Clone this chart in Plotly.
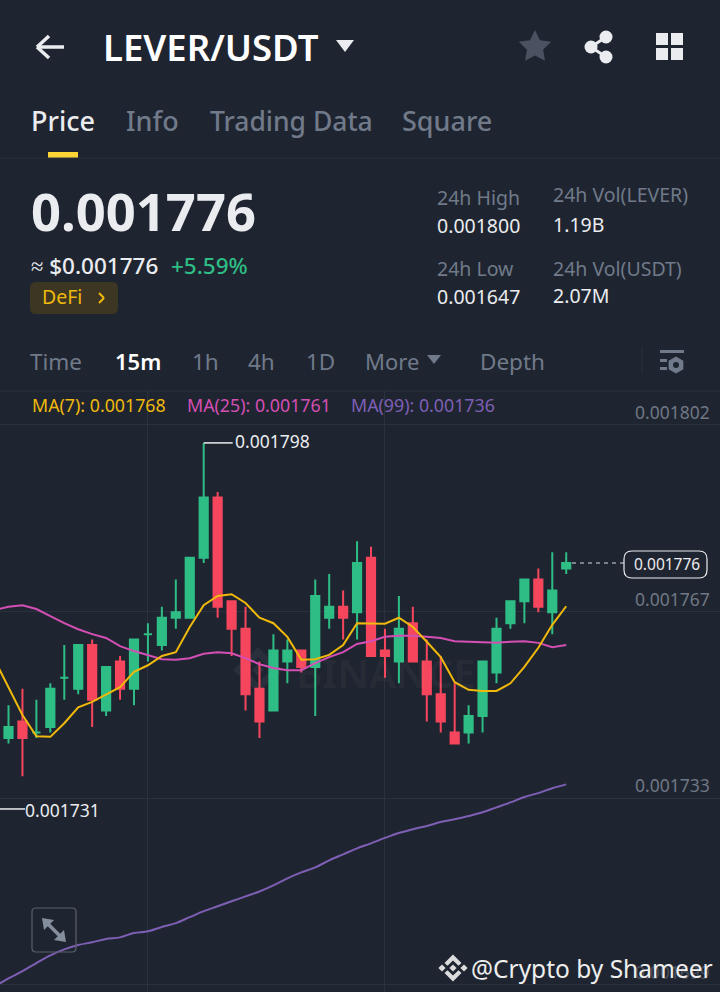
# -*- coding: utf-8 -*-
"""LEVER/USDT mobile kline screen"""

import math

import numpy as np
import plotly.graph_objects as go

W, H = 720, 992
BG = '#1f2530'
WHITE = '#eaecef'
GRAY = '#707a8a'
LINE = '#2c323d'
GREEN = '#2ebd85'
RED = '#f6465d'
YELLOW = '#f0b90b'
PINK = '#d44fb4'
PURPLE = '#7e5fb5'
FONT = 'Noto Sans'

# prices in millionths (0.001776 -> 1776)
opens = [1737, 1744, 1747, 1745, 1746, 1755, 1753, 1761, 1749, 1758, 1753, 1763, 1761, 1766,
         1766, 1777, 1788, 1769, 1764, 1753, 1749, 1758, 1760, 1757, 1766, 1768, 1767, 1777,
         1760, 1758, 1765, 1758, 1752, 1745, 1745, 1748, 1756, 1765, 1769, 1773, 1767, 1775]
highs = [1744, 1750, 1753, 1751, 1754, 1761, 1761, 1762, 1757, 1759, 1762, 1765, 1768, 1773,
         1777, 1798, 1789, 1769, 1768, 1758, 1763, 1762, 1760, 1773, 1774, 1771, 1780, 1779,
         1764, 1770, 1768, 1762, 1759, 1754, 1750, 1758, 1766, 1769, 1773, 1775, 1778, 1778]
lows = [1736, 1743, 1737, 1744, 1745, 1751, 1752, 1746, 1748, 1751, 1750, 1758, 1760, 1764,
        1766, 1776, 1766, 1759, 1749, 1744, 1749, 1754, 1756, 1748, 1764, 1762, 1762, 1759,
        1755, 1754, 1758, 1747, 1745, 1743, 1743, 1745, 1754, 1764, 1765, 1767, 1763, 1774]
closes = [1743, 1746, 1744, 1745, 1753, 1755, 1761, 1751, 1757, 1753, 1762, 1763, 1766, 1767,
          1777, 1788, 1768, 1764, 1752, 1747, 1760, 1760, 1757, 1770, 1768, 1766, 1776, 1759,
          1759, 1764, 1758, 1752, 1747, 1743, 1748, 1758, 1764, 1769, 1773, 1768, 1771, 1776]

ma7 = [1758.3, 1753.3, 1748.2, 1744.3, 1744.2, 1746.7, 1749.6, 1750.6, 1752.0, 1753.3, 1756.1,
       1757.3, 1759.0, 1759.7, 1764.3, 1768.3, 1770.0, 1770.3, 1768.7, 1766.0, 1765.0, 1762.5,
       1758.3, 1758.4, 1759.2, 1761.0, 1765.0, 1765.0, 1764.9, 1766.0, 1764.3, 1761.6, 1758.8,
       1754.2, 1752.8, 1752.6, 1752.6, 1754.0, 1757.0, 1760.5, 1764.7, 1768.1]
ma25 = [1767.4, 1768.0, 1768.3, 1767.6, 1766.3, 1765.0, 1763.9, 1763.0, 1762.3, 1760.8, 1759.9,
        1759.2, 1758.4, 1758.3, 1758.6, 1759.4, 1759.7, 1759.5, 1758.6, 1757.5, 1756.8, 1756.4,
        1756.4, 1757.7, 1758.8, 1759.7, 1761.2, 1761.7, 1762.5, 1762.7, 1762.7, 1762.5, 1762.3,
        1761.7, 1761.6, 1761.4, 1761.4, 1761.6, 1761.7, 1761.4, 1760.6, 1761.0]
ma99 = [1698.5, 1700.0, 1701.3, 1702.8, 1704.2, 1705.3, 1706.1, 1706.6, 1707.2, 1707.5, 1708.3,
        1708.6, 1709.4, 1710.1, 1711.2, 1712.3, 1713.2, 1714.1, 1715.0, 1715.9, 1717.0, 1718.3,
        1719.4, 1720.3, 1721.6, 1722.7, 1723.8, 1724.7, 1725.7, 1726.6, 1727.3, 1727.9, 1728.6,
        1729.1, 1729.7, 1730.4, 1731.3, 1732.2, 1733.2, 1733.9, 1734.8, 1735.5]

grid_prices = [1801.3, 1767.2, 1733.0, 1698.9]
grid_labels = ['0.001802', '0.001767', '0.001733', '0.001699']
grid_candles = [11, 28]
low_price = 1731
last_price = 1776

candles = list(range(len(opens)))


def scaled(values):
    return (np.array(values, dtype=float) / 1e6).tolist()


def px(x):
    return x / W


def py(y):
    return 1 - y / H


annotations = []
shapes = []


def label(text, x, y, size, color=WHITE, anchor='left', weight=400, font=FONT):
    annotations.append(dict(
        text=text, x=px(x), y=py(y), xref='paper', yref='paper', showarrow=False,
        xanchor=anchor, yanchor='middle', borderpad=0, borderwidth=0,
        font=dict(family=font, size=size, color=color, weight=weight)
    ))


def path_of(points):
    return 'M ' + ' L '.join(f'{px(x):.5f},{py(y):.5f}' for x, y in points) + ' Z'


def polygon(points, color, layer='above'):
    shapes.append(dict(type='path', path=path_of(points), xref='paper', yref='paper',
                       fillcolor=color, line=dict(width=0), layer=layer))


def segment(x0, y0, x1, y1, color, width=1, dash='solid'):
    shapes.append(dict(type='line', xref='paper', yref='paper', x0=px(x0), y0=py(y0),
                       x1=px(x1), y1=py(y1), line=dict(color=color, width=width, dash=dash)))


def block(x0, y0, x1, y1, color):
    shapes.append(dict(type='rect', xref='paper', yref='paper', x0=px(x0), y0=py(y0),
                       x1=px(x1), y1=py(y1), fillcolor=color, line=dict(width=0)))


def dot(x, y, r, color):
    shapes.append(dict(type='circle', xref='paper', yref='paper', x0=px(x - r), y0=py(y - r),
                       x1=px(x + r), y1=py(y + r), fillcolor=color, line=dict(width=0)))


def rounded(x0, y0, x1, y1, r, fill, border=None, width=0):
    p = (f'M {px(x0 + r):.5f},{py(y0):.5f} L {px(x1 - r):.5f},{py(y0):.5f} '
         f'Q {px(x1):.5f},{py(y0):.5f} {px(x1):.5f},{py(y0 + r):.5f} '
         f'L {px(x1):.5f},{py(y1 - r):.5f} Q {px(x1):.5f},{py(y1):.5f} {px(x1 - r):.5f},{py(y1):.5f} '
         f'L {px(x0 + r):.5f},{py(y1):.5f} Q {px(x0):.5f},{py(y1):.5f} {px(x0):.5f},{py(y1 - r):.5f} '
         f'L {px(x0):.5f},{py(y0 + r):.5f} Q {px(x0):.5f},{py(y0):.5f} {px(x0 + r):.5f},{py(y0):.5f} Z')
    shapes.append(dict(type='path', path=p, xref='paper', yref='paper', fillcolor=fill,
                       line=dict(color=border or fill, width=width)))


def binance_logo(cx, cy, k, color, layer='above'):
    for dx in (-11 * k, 0, 11 * k):
        d = 3.6 * k
        polygon([(cx + dx, cy - d), (cx + dx + d, cy), (cx + dx, cy + d), (cx + dx - d, cy)], color, layer)
    for s in (-1, 1):
        pts = [(0, 13.5), (8.5, 5), (5.5, 2.2), (0, 7.5), (-5.5, 2.2), (-8.5, 5)]
        polygon([(cx + a * k, cy + s * b * k) for a, b in pts], color, layer)


# ==================== page header ====================
segment(37, 47, 64, 47, WHITE, 3.5)
segment(49, 36, 37, 47, WHITE, 3.5)
segment(37, 47, 49, 58, WHITE, 3.5)
label('LEVER/USDT', 103, 47, 36.5, '#ffffff', weight=600)
polygon([(336, 40), (354, 40), (345, 52)], WHITE)

star = [(535 + (17 if i % 2 == 0 else 8.5) * math.sin(i * math.pi / 5),
         47 - (17 if i % 2 == 0 else 8.5) * math.cos(i * math.pi / 5)) for i in range(10)]
polygon(star, '#4a5160')
segment(606, 37, 591, 47, WHITE, 3)
segment(591, 47, 606, 57, WHITE, 3)
dot(606, 37, 6.5, WHITE)
dot(591, 47, 6.5, WHITE)
dot(606, 57, 6.5, WHITE)
block(656, 33, 668, 45, WHITE)
block(671, 33, 683, 45, WHITE)
block(656, 48, 668, 60, WHITE)
block(671, 48, 683, 60, WHITE)

label('Price', 31, 121, 27, WHITE, weight=500)
label('Info', 126, 121, 27, GRAY, weight=500)
label('Trading Data', 210, 121, 26.5, GRAY, weight=500)
label('Square', 402, 121, 27, GRAY, weight=500)
block(48, 152, 78, 158, '#fcd535')
segment(0, 158, W, 158, LINE, 1)

# ==================== price block ====================
label('0.001776', 31, 211, 52.5, WHITE, weight=700)
label('≈ $0.001776', 31, 266, 22.5, WHITE, weight=500)
label('+5.59%', 171, 266, 22.5, GREEN, weight=500)
rounded(30, 282, 118, 314, 6, '#3c3623')
label('DeFi', 42, 297, 19.5, YELLOW)
segment(99, 293, 104, 298, YELLOW, 2)
segment(104, 298, 99, 303, YELLOW, 2)

label('24h High', 437, 197, 19.5, GRAY)
label('0.001800', 437, 225, 19.5, WHITE)
label('24h Vol(LEVER)', 553, 195, 19.5, GRAY)
label('1.19B', 553, 224, 19.5, WHITE)
label('24h Low', 437, 268, 19.5, GRAY)
label('0.001647', 437, 297, 19.5, WHITE)
label('24h Vol(USDT)', 553, 268, 19.5, GRAY)
label('2.07M', 553, 295, 19.5, WHITE)

# ==================== interval tabs ====================
label('Time', 30, 361, 22.5, GRAY)
label('15m', 115, 361, 22, '#ffffff', weight=600)
label('1h', 192, 361, 22.5, GRAY)
label('4h', 248, 361, 22.5, GRAY)
label('1D', 306, 361, 22.5, GRAY)
label('More', 365, 361, 22, GRAY)
polygon([(427, 355), (441, 355), (434, 364)], GRAY)
label('Depth', 480, 361, 22.5, GRAY)
segment(642, 348, 642, 372, LINE, 1)
block(660, 350, 684, 353, GRAY)
block(660, 359, 667, 362, GRAY)
block(660, 367, 667, 370, GRAY)
hexagon = [(676 + 8.5 * math.sin(i * math.pi / 3), 365 - 8.5 * math.cos(i * math.pi / 3)) for i in range(6)]
polygon(hexagon, GRAY)
dot(676, 365, 3, BG)
segment(0, 391, W, 391, LINE, 1)

label('MA(7): 0.001768', 32, 405, 17.8, YELLOW)
label('MA(25): 0.001761', 187, 405, 17.8, PINK)
label('MA(99): 0.001736', 351, 405, 17.8, PURPLE)

# ==================== kline area ====================
binance_logo(258, 670, 1.7, '#2a303b', 'below')
label('BINANCE', 296, 672, 40, 'rgba(255,255,255,0.05)', weight=600)

fig = go.Figure()
fig.add_trace(go.Candlestick(
    x=candles, open=scaled(opens), high=scaled(highs), low=scaled(lows), close=scaled(closes),
    increasing=dict(line=dict(color=GREEN, width=2), fillcolor=GREEN),
    decreasing=dict(line=dict(color=RED, width=2), fillcolor=RED),
    whiskerwidth=0, name='K'
))
fig.add_trace(go.Scatter(x=candles, y=scaled(ma99), mode='lines', name='MA(99)',
                         line=dict(color=PURPLE, width=2, shape='spline', smoothing=1.0)))
fig.add_trace(go.Scatter(x=candles, y=scaled(ma25), mode='lines', name='MA(25)',
                         line=dict(color=PINK, width=2)))
fig.add_trace(go.Scatter(x=candles, y=scaled(ma7), mode='lines', name='MA(7)',
                         line=dict(color=YELLOW, width=2)))

# 最高/最低价引线
top = highs.index(max(highs))
shapes.append(dict(type='line', xref='x', yref='y', x0=top, x1=top + 2.08,
                   y0=max(highs) / 1e6, y1=max(highs) / 1e6, line=dict(color=WHITE, width=1.5)))
label('0.001798', 235, 441, 17.5, WHITE)
shapes.append(dict(type='line', xref='paper', yref='y', x0=0, x1=px(25),
                   y0=low_price / 1e6, y1=low_price / 1e6, line=dict(color=WHITE, width=1.5)))
label('0.001731', 25, 810, 17.5, WHITE)

for text, y in zip(grid_labels[:3], [412, 599, 785]):
    label(text, 710, y, 17.5, '#6f7785', anchor='right')
label(grid_labels[3], 710, 972, 17.5, '#4a505c', anchor='right')

# 最新价标签
shapes.append(dict(type='line', xref='paper', yref='y', x0=px(572), x1=px(624),
                   y0=last_price / 1e6, y1=last_price / 1e6,
                   line=dict(color='#9aa0aa', width=1.5, dash='4px,4px')))
rounded(624, 551, 707, 578, 8, BG, WHITE, 1.2)
label('0.001776', 634, 564, 15.5, WHITE)

# 全屏按钮
rounded(32, 908, 76, 952, 4, 'rgba(0,0,0,0)', '#5a606c', 1.2)
segment(47, 923, 61, 937, '#848e9c', 3.5)
polygon([(42, 918), (54, 920), (44, 930)], '#848e9c')
polygon([(66, 942), (54, 940), (64, 930)], '#848e9c')

# 水印
binance_logo(453, 968, 1.0, '#dcdcdc')
label('@Crypto by Shameer', 471, 968, 24.5, '#eeeeee')

fig.update_layout(
    width=W, height=H,
    margin=dict(l=0, r=0, t=0, b=0),
    paper_bgcolor=BG, plot_bgcolor=BG,
    showlegend=False,
    boxgap=0.16,
    annotations=annotations,
    shapes=shapes,
    xaxis=dict(range=[0.39, 52.03], rangeslider=dict(visible=False), tickvals=grid_candles,
               showticklabels=False, showgrid=True, gridcolor=LINE, gridwidth=1, zeroline=False,
               ticks=''),
    yaxis=dict(domain=[0, 1 - 391 / H], range=[1697.5e-6, 1807.5e-6], tickvals=scaled(grid_prices),
               showticklabels=False, showgrid=True, gridcolor=LINE, gridwidth=1, zeroline=False,
               ticks=''),
)

fig.write_html(
    "out.html",
    config=dict(displayModeBar=False),
    post_script="document.body.style.margin='0';document.body.style.overflow='hidden';"
                f"document.body.style.background='{BG}';"
)
